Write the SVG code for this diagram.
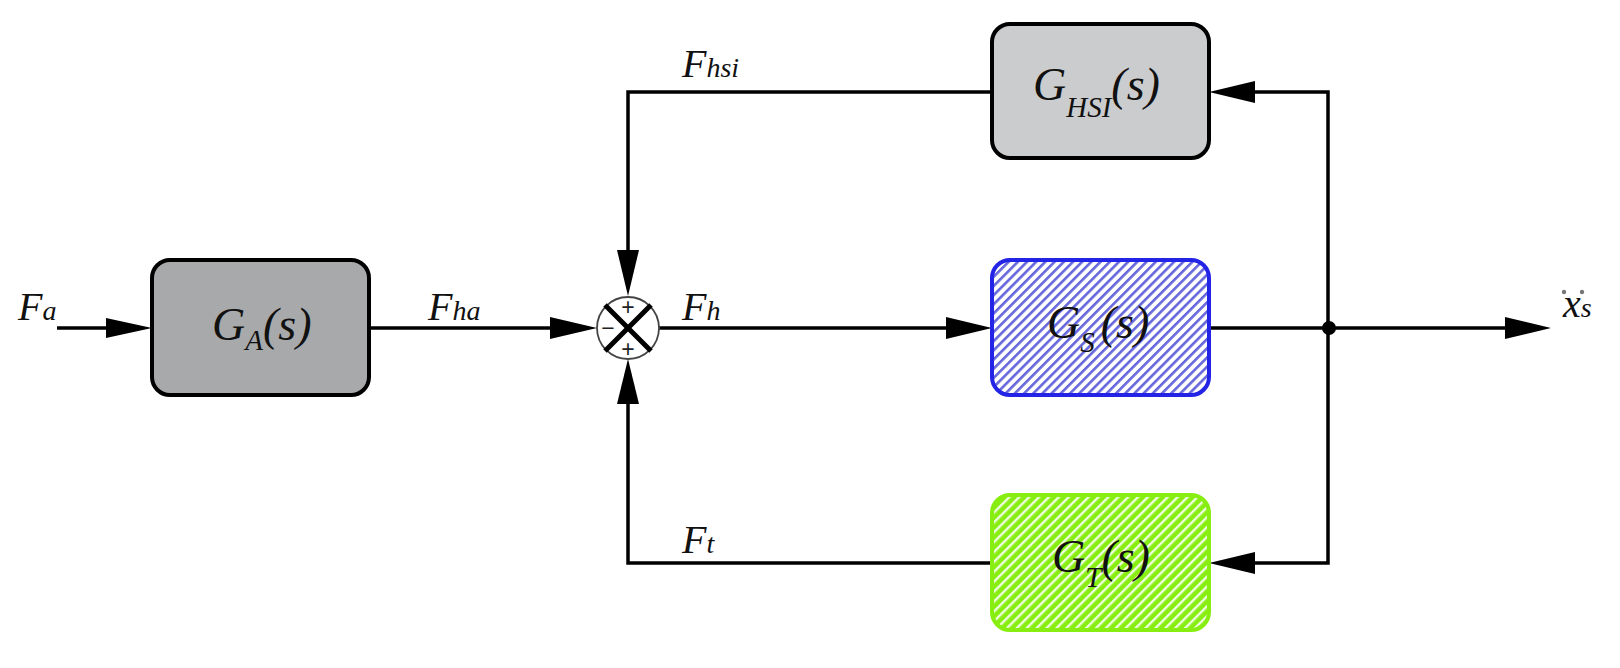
<svg xmlns="http://www.w3.org/2000/svg" width="1620" height="668" viewBox="0 0 1620 668">
<style>
.t{font-family:"Liberation Serif","Times New Roman",serif;font-style:italic;fill:#111}
.big{font-size:40px}
.gb{font-size:46px}
.sm{font-size:28px}
.sub{font-size:29px}
.box{stroke-width:4}
.ln{stroke:#000;stroke-width:3.5;fill:none}
.sgn{font-family:"Liberation Sans",Arial,sans-serif;font-size:23px;fill:#222;text-anchor:middle}
</style>
<defs>
<pattern id="hb" patternUnits="userSpaceOnUse" width="6.5" height="6.5" patternTransform="rotate(45)">
<rect width="6.5" height="6.5" fill="#ffffff"/>
<rect width="2.6" height="6.5" fill="#6666dd"/>
</pattern>
<pattern id="hg" patternUnits="userSpaceOnUse" width="7" height="7" patternTransform="rotate(45)">
<rect width="7" height="7" fill="#88ee11"/>
<rect width="2.4" height="7" fill="#eefce0"/>
</pattern>
</defs>

<g id="connectors" class="ln">
<polygon points="106,318 152,328 106,338" fill="#000" stroke="none"/>
<line x1="57" y1="328" x2="106" y2="328"/>
<line x1="369" y1="328" x2="552" y2="328"/>
<polygon points="550,317 597,328 550,339" fill="#000" stroke="none"/>
<line x1="659" y1="328" x2="948" y2="328"/>
<polygon points="946,317 992,328 946,339" fill="#000" stroke="none"/>
<line x1="1209" y1="328" x2="1507" y2="328"/>
<polygon points="1505,317 1551,328 1505,339" fill="#000" stroke="none"/>
<polyline points="1255,92 1328,92 1328,563 1255,563"/>
<polygon points="1255,81 1209,92 1255,103" fill="#000" stroke="none"/>
<polygon points="1255,552 1209,563 1255,574" fill="#000" stroke="none"/>
<polyline points="992,92 628,92 628,252"/>
<polygon points="617,250 628,296 639,250" fill="#000" stroke="none"/>
<polyline points="992,563 628,563 628,402"/>
<polygon points="617,404 628,359 639,404" fill="#000" stroke="none"/>
<circle cx="1329" cy="328" r="7" fill="#000" stroke="none"/>
</g>

<g id="sum">
<circle cx="628" cy="328" r="31" fill="#fff" stroke="#444" stroke-width="1.8"/>
<line x1="605" y1="305" x2="651" y2="351" stroke="#000" stroke-width="5"/>
<line x1="651" y1="305" x2="605" y2="351" stroke="#000" stroke-width="5"/>
<text class="sgn" x="628" y="315">+</text>
<text class="sgn" x="628" y="357">+</text>
<text class="sgn" x="608" y="336">−</text>
</g>

<g id="GA">
<rect class="box" x="152" y="260" width="217" height="135" rx="18" fill="#a8a9ab" stroke="#000"/>
<text class="t" x="212" y="340"><tspan class="gb">G</tspan><tspan class="sub" dy="10">A</tspan><tspan class="gb" dy="-10">(s)</tspan></text>
</g>

<g id="GHSI">
<rect class="box" x="992" y="24" width="217" height="134" rx="18" fill="#cbcccd" stroke="#000"/>
<text class="t" x="1033" y="100"><tspan class="gb">G</tspan><tspan class="sub" dy="17">HSI</tspan><tspan class="gb" dy="-17">(s)</tspan></text>
</g>

<g id="GS">
<rect class="box" x="992" y="260" width="217" height="135" rx="18" fill="url(#hb)" stroke="#2424e6" stroke-width="3"/>
<text class="t" x="1047" y="338"><tspan class="gb">G</tspan><tspan class="sub" dy="14">S</tspan><tspan class="gb" dy="-14" dx="6">(s)</tspan></text>
</g>

<g id="GT">
<rect class="box" x="992" y="495" width="217" height="135" rx="18" fill="url(#hg)" stroke="#88ee11" stroke-width="3"/>
<text class="t" x="1052" y="572"><tspan class="gb">G</tspan><tspan class="sub" dy="15">T</tspan><tspan class="gb" dy="-15">(s)</tspan></text>
</g>

<g id="labels">
<text class="t" x="18" y="320"><tspan class="big">F</tspan><tspan class="sm">a</tspan></text>
<text class="t" x="428" y="320"><tspan class="big">F</tspan><tspan class="sm">ha</tspan></text>
<text class="t" x="682" y="320"><tspan class="big">F</tspan><tspan class="sm">h</tspan></text>
<text class="t" x="682" y="77"><tspan class="big">F</tspan><tspan class="sm">hsi</tspan></text>
<text class="t" x="682" y="553"><tspan class="big">F</tspan><tspan class="sm">t</tspan></text>
<text class="t" x="1563" y="317"><tspan class="big">x</tspan><tspan class="sm">s</tspan></text>
<circle cx="1564" cy="292" r="2.2" fill="#777"/>
<circle cx="1582" cy="292" r="2.2" fill="#777"/>
</g>
</svg>
